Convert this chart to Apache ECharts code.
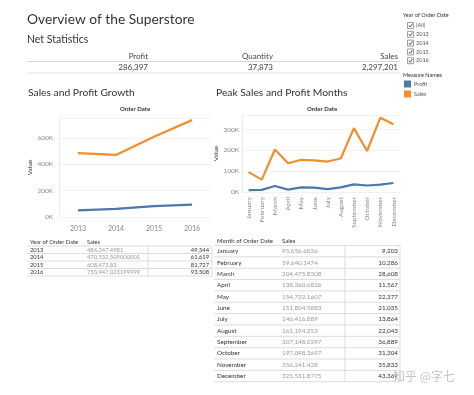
<!DOCTYPE html>
<html><head><meta charset="utf-8">
<script src="https://cdn.jsdelivr.net/npm/echarts@6/dist/echarts.min.js"></script>
<style>html,body{margin:0;padding:0;background:#fff}#c{width:474px;height:395px}</style>
</head><body><div id="c"></div>
<script>
// ---- data ----
const years = ['2013', '2014', '2015', '2016'];
const yearSales = [484247.4981, 470532.509000001, 608473.83, 733947.023199999];
const yearProfit = [49544, 61619, 81727, 93508];
const months = ['January', 'February', 'March', 'April', 'May', 'June', 'July', 'August', 'September', 'October', 'November', 'December'];
const monthSales = [95656.6036, 59640.1474, 204475.8308, 138260.6826, 154732.1607, 151804.5883, 146416.889, 161194.253, 307148.0297, 197098.3697, 356241.428, 325531.8775];
const monthProfit = [9203, 10286, 28608, 11567, 22377, 21035, 13864, 22043, 36889, 31304, 35833, 43369];
const netLabels = ['Profit', 'Quantity', 'Sales'];
const netValues = [286397, 37873, 2297201];
const filterYears = ['(All)', '2013', '2014', '2015', '2016'];
const measureNames = ['Profit', 'Sales'];

// ---- helpers ----
const F = 'Lato, "Open Sans", sans-serif';
const BLUE = '#4e79a7', ORANGE = '#f28e2b';
const g = [];
function txt(x, y, s, o) {
  const st = Object.assign({ text: s, fontFamily: F, fontSize: 8, fill: '#333', align: 'left', verticalAlign: 'middle' }, o || {});
  st.textAlign = st.align; st.textVerticalAlign = st.verticalAlign;
  g.push({ type: 'text', x: x, y: y, style: st, silent: true });
}
function line(x1, y1, x2, y2, c) {
  g.push({ type: 'line', shape: { x1: x1, y1: y1, x2: x2, y2: y2 }, style: { stroke: c || '#dcdcdc', lineWidth: 1 }, silent: true });
}
function fmtInt(v) { return Math.round(v).toString().replace(/\B(?=(\d{3})+(?!\d))/g, ','); }
function fmtRaw(v) { const p = String(v).split('.'); return p[0].replace(/\B(?=(\d{3})+(?!\d))/g, ',') + (p[1] ? '.' + p[1] : ''); }

// ---- titles ----
txt(27, 20, 'Overview of the Superstore', { fontSize: 13.8, fill: '#333' });
txt(27, 40, 'Net Statistics', { fontSize: 10.5, fill: '#333' });
txt(28, 93, 'Sales and Profit Growth', { fontSize: 10.3, fill: '#333' });
txt(216, 93, 'Peak Sales and Profit Months', { fontSize: 10.3, fill: '#333' });
txt(135, 109, 'Order Date', { fontSize: 6, fill: '#333', align: 'center', fontWeight: 'bold' });
txt(322, 109, 'Order Date', { fontSize: 6, fill: '#333', align: 'center', fontWeight: 'bold' });

// ---- net statistics ----
const netX = [148, 273, 398];
netLabels.forEach((l, i) => {
  txt(netX[i], 56, l, { fontSize: 8, align: 'right', fill: '#444' });
  txt(netX[i], 67, fmtInt(netValues[i]), { fontSize: 8, align: 'right', fill: '#444' });
});
line(27, 61.5, 400, 61.5, '#d8d8d8');
line(27, 73, 400, 73, '#e4e4e4');

// ---- legend / filter ----
txt(403, 15, 'Year of Order Date', { fontSize: 5.5, fill: '#333' });
filterYears.forEach((y, i) => {
  const cy = 25.5 + i * 8.8;
  g.push({ type: 'rect', shape: { x: 407.5, y: cy - 3, width: 6, height: 6 }, style: { fill: '#fff', stroke: '#888', lineWidth: 0.8 }, silent: true });
  g.push({ type: 'polyline', shape: { points: [[408.8, cy], [410.2, cy + 1.6], [412.4, cy - 1.8]] }, style: { stroke: '#444', lineWidth: 0.9, fill: null }, silent: true });
  txt(416, cy, y, { fontSize: 5.5, fill: '#555' });
});
txt(403, 75, 'Measure Names', { fontSize: 5.5, fill: '#333' });
measureNames.forEach((m, i) => {
  const cy = 84 + i * 10;
  g.push({ type: 'rect', shape: { x: 404, y: cy - 3.5, width: 7, height: 7 }, style: { fill: i === 0 ? BLUE : ORANGE }, silent: true });
  txt(414, cy, m, { fontSize: 5.5, fill: '#555' });
});

// ---- left table ----
txt(30, 242, 'Year of Order Date', { fontSize: 5.8, fill: '#333' });
txt(87, 242, 'Sales', { fontSize: 5.8, fill: '#333' });
const lt = 246, lrh = 7.5;
line(27, lt, 212, lt);
years.forEach((y, i) => {
  const cy = lt + lrh * (i + 0.5);
  txt(30, cy, y, { fontSize: 5.8, fill: '#333' });
  txt(87, cy, fmtRaw(yearSales[i]), { fontSize: 5.8, fill: '#999' });
  txt(209, cy, fmtInt(yearProfit[i]), { fontSize: 5.8, fill: '#333', align: 'right' });
  line(27, lt + lrh * (i + 1), 212, lt + lrh * (i + 1));
});
line(148, lt, 148, lt + lrh * years.length);
line(212, lt, 212, lt + lrh * years.length);

// ---- right table ----
txt(217, 241, 'Month of Order Date', { fontSize: 6, fill: '#333' });
txt(282, 241, 'Sales', { fontSize: 6, fill: '#333' });
const rt = 245.5, rrh = 11.35;
line(214, rt, 400, rt);
months.forEach((m, i) => {
  const cy = rt + rrh * (i + 0.5);
  txt(217, cy, m, { fontSize: 6.3, fill: '#333' });
  txt(282, cy, fmtRaw(monthSales[i]), { fontSize: 6.3, fill: '#999' });
  txt(398, cy, fmtInt(monthProfit[i]), { fontSize: 6.3, fill: '#333', align: 'right' });
  line(214, rt + rrh * (i + 1), 400, rt + rrh * (i + 1));
});
line(345, rt, 345, rt + rrh * months.length);
line(400, rt, 400, rt + rrh * months.length);

// ---- watermark ----
txt(393, 376, '知乎 @字七', { fontSize: 12, fill: '#c4c4c4', fontFamily: '"Noto Sans CJK SC", sans-serif' });

const kfmt = v => (v / 1000) + 'K';
const axisLabelStyle = { color: '#888', fontFamily: F, fontSize: 6.5 };

const chart = echarts.init(document.getElementById('c'));
chart.setOption({
  animation: false,
  grid: [
    { left: 59, top: 118, width: 152, height: 99 },
    { left: 242, top: 115, width: 158, height: 77 }
  ],
  xAxis: [
    { gridIndex: 0, type: 'category', data: years, axisLine: { show: false }, axisTick: { show: false },
      axisLabel: Object.assign({ margin: 8 }, axisLabelStyle, { fontSize: 7 }) },
    { gridIndex: 1, type: 'category', data: months, axisLine: { show: false }, axisTick: { show: false },
      axisLabel: Object.assign({ rotate: 90, margin: 5, interval: 0 }, axisLabelStyle) }
  ],
  yAxis: [
    { gridIndex: 0, type: 'value', min: 0, max: 750000, interval: 200000,
      name: 'Value', nameLocation: 'middle', nameGap: 24, nameRotate: 90,
      nameTextStyle: { fontFamily: F, fontSize: 6.5, color: '#333' },
      axisLine: { show: true, lineStyle: { color: '#eaeaea' } }, axisTick: { show: false },
      splitLine: { lineStyle: { color: '#f2f2f2' } },
      axisLabel: Object.assign({ formatter: kfmt, showMaxLabel: false, margin: 6 }, axisLabelStyle) },
    { gridIndex: 1, type: 'value', min: 0, max: 370000, interval: 100000,
      name: 'Value', nameLocation: 'middle', nameGap: 18, nameRotate: 90,
      nameTextStyle: { fontFamily: F, fontSize: 6.5, color: '#333' },
      axisLine: { show: true, lineStyle: { color: '#eaeaea' } }, axisTick: { show: false },
      splitLine: { lineStyle: { color: '#f2f2f2' } },
      axisLabel: Object.assign({ formatter: kfmt, showMaxLabel: false, margin: 3 }, axisLabelStyle) }
  ],
  series: [
    { type: 'line', xAxisIndex: 0, yAxisIndex: 0, data: yearSales, symbol: 'none', lineStyle: { color: ORANGE, width: 2.2 }, itemStyle: { color: ORANGE } },
    { type: 'line', xAxisIndex: 0, yAxisIndex: 0, data: yearProfit, symbol: 'none', lineStyle: { color: BLUE, width: 2.2 }, itemStyle: { color: BLUE } },
    { type: 'line', xAxisIndex: 1, yAxisIndex: 1, data: monthSales, symbol: 'none', lineStyle: { color: ORANGE, width: 2.2 }, itemStyle: { color: ORANGE } },
    { type: 'line', xAxisIndex: 1, yAxisIndex: 1, data: monthProfit, symbol: 'none', lineStyle: { color: BLUE, width: 2.2 }, itemStyle: { color: BLUE } }
  ],
  graphic: g
});
</script>
</body></html>
